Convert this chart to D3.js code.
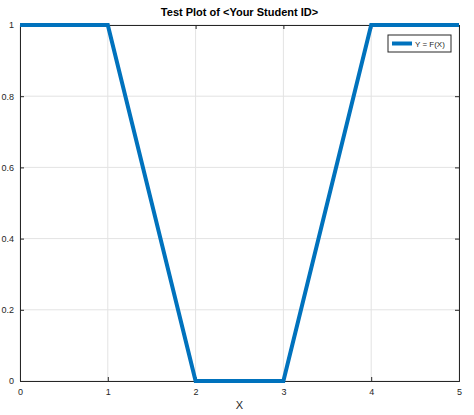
<!DOCTYPE html><html><head><script src="https://cdn.jsdelivr.net/npm/d3@7"></script>
<style>body{margin:0;background:#fff}text{font-family:"Liberation Sans",Arial,sans-serif}</style></head><body><svg width="474" height="415"></svg><script>
const xs=[0,1,2,3,4,5];
const ys=[1,1,0,0,1,1];
const xTicks=[0,1,2,3,4,5];
const yTicks=[0,0.2,0.4,0.6,0.8,1];
const seriesName="Y = F(X)";
const svg=d3.select("svg");
const L=20,R=459,T=25,B=381;
const x=d3.scaleLinear().domain([0,5]).range([L,R]);
const y=d3.scaleLinear().domain([0,1]).range([B,T]);
const g=svg.append("g");
xTicks.forEach(t=>g.append("line").attr("x1",x(t)).attr("x2",x(t)).attr("y1",T).attr("y2",B).attr("stroke","#e3e3e3"));
yTicks.forEach(t=>g.append("line").attr("y1",y(t)).attr("y2",y(t)).attr("x1",L).attr("x2",R).attr("stroke","#e3e3e3"));
const xa=svg.append("g").attr("transform",`translate(0,${B})`).call(d3.axisBottom(x).tickValues(xTicks).tickFormat(d3.format("d")).tickSize(-4).tickPadding(8));
const xt=svg.append("g").attr("transform",`translate(0,${T})`).call(d3.axisTop(x).tickValues(xTicks).tickFormat("").tickSize(-4));
const ya=svg.append("g").attr("transform",`translate(${L},0)`).call(d3.axisLeft(y).tickValues(yTicks).tickFormat(d=>d===0||d===1?d3.format("d")(d):d3.format(".1f")(d)).tickSize(-4).tickPadding(6));
const yr=svg.append("g").attr("transform",`translate(${R},0)`).call(d3.axisRight(y).tickValues(yTicks).tickFormat("").tickSize(-4));
[xa,xt,ya,yr].forEach(a=>{a.select(".domain").attr("stroke","#262626");a.selectAll(".tick line").attr("stroke","#262626");a.selectAll("text").attr("fill","#262626").attr("font-size",9)});
svg.append("path").datum(xs.map((d,i)=>[d,ys[i]])).attr("d",d3.line().x(d=>x(d[0])).y(d=>y(d[1]))).attr("fill","none").attr("stroke","#0072bd").attr("stroke-width",4).attr("stroke-linejoin","miter");
svg.append("text").attr("x",(L+R)/2).attr("y",16).attr("text-anchor","middle").attr("font-weight","bold").attr("font-size",11).attr("fill","#000").text("Test Plot of <Your Student ID>");
svg.append("text").attr("x",(L+R)/2).attr("y",409).attr("text-anchor","middle").attr("font-size",11).attr("fill","#262626").text("X");
const lg=svg.append("g");
lg.append("rect").attr("x",388).attr("y",35).attr("width",63).attr("height",17).attr("fill","#fff").attr("stroke","#262626");
lg.append("line").attr("x1",392).attr("x2",412).attr("y1",43.5).attr("y2",43.5).attr("stroke","#0072bd").attr("stroke-width",4);
lg.append("text").attr("x",415).attr("y",47).attr("font-size",8).attr("fill","#262626").text(seriesName);
</script></body></html>
